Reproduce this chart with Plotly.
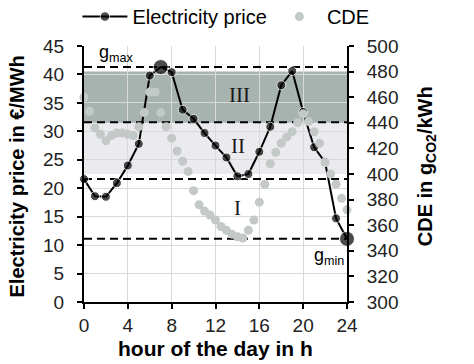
import plotly.graph_objects as go

# ---------------- data ----------------
hours = list(range(0, 25))
price = [21.6, 18.6, 18.5, 20.9, 24.0, 27.8, 39.8, 41.3, 40.4, 33.8, 32.2, 29.7, 27.5,
         25.4, 22.1, 22.5, 26.4, 30.8, 38.1, 40.6, 33.4, 27.2, 24.6, 14.7, 11.1]

cde_hours = [i * 0.5 for i in range(49)]
cde = [460, 449, 436, 431, 426, 430, 432, 432, 431, 430, 437, 448, 464, 464, 448, 437,
       428, 418, 410, 402, 387, 376, 371, 368, 364, 359, 356, 353, 351, 350, 356, 364,
       378, 392, 408, 417, 424, 429, 433, 440, 447, 441, 433, 424, 409, 400, 392, 381, 372]

# dashed reference levels (electricity price axis)
g_levels = [41.3, 31.6, 21.6, 11.1]
# shaded CDE bands (right axis): II and III
band_II = [400, 440]
band_III = [440, 480]

x_ticks = [0, 4, 8, 12, 16, 20, 24]
x_span = [0, 24]
roman_labels = ["III", "II", "I"]
roman_pos = [(14.2, 36.3), (14.05, 27.5), (14.05, 16.5)]

FONT = "Liberation Sans, Arial, sans-serif"

pmax, pmin = max(price), min(price)
sizes = [15 if (v == pmax or v == pmin) else 9 for v in price]

fig = go.Figure()

fig.add_trace(go.Scatter(
    x=cde_hours, y=cde, yaxis="y2", mode="markers", name="CDE",
    marker=dict(color="#c3c9c7", size=9),
    cliponaxis=False, legendrank=2,
))
for lv in g_levels:
    fig.add_trace(go.Scatter(
        x=x_span, y=[lv, lv], mode="lines", showlegend=False, hoverinfo="skip",
        line=dict(color="black", width=2, dash="8px,5px"),
    ))
fig.add_trace(go.Scatter(
    x=hours, y=price, mode="lines+markers", name="Electricity price",
    line=dict(color="black", width=2),
    marker=dict(color="black", size=sizes),
    cliponaxis=False, legendrank=1,
))

shapes = []
shapes.append(dict(type="rect", xref="x", yref="y2", x0=x_span[0], x1=x_span[1],
                   y0=band_II[0], y1=band_II[1],
                   fillcolor="#ebebef", line=dict(width=0), layer="below"))
shapes.append(dict(type="rect", xref="x", yref="y2", x0=x_span[0], x1=x_span[1],
                   y0=band_III[0], y1=band_III[1],
                   fillcolor="#a6b3af", line=dict(width=0), layer="below"))

annotations = []
annotations.append(dict(x=1.2, y=g_levels[0], xref="x", yref="y", text="g<sub>max</sub>",
                        showarrow=False, xanchor="left", yanchor="bottom",
                        font=dict(family=FONT, size=18, color="black")))
annotations.append(dict(x=23.9, y=10.3, xref="x", yref="y", text="g<sub>min</sub>",
                        showarrow=False, xanchor="right", yanchor="top",
                        font=dict(family=FONT, size=18, color="black")))
for lab, (px, py) in zip(roman_labels, roman_pos):
    annotations.append(dict(x=px, y=py, xref="x", yref="y", text=lab, showarrow=False,
                            font=dict(family="Liberation Serif, Times New Roman, serif",
                                      size=21, color="#1a1a1a")))
annotations.append(dict(x=-0.255, y=0.49, xref="paper", yref="paper",
                        xanchor="center", yanchor="middle",
                        text="<b>Electricity price in €/MWh</b>", textangle=-90,
                        showarrow=False, font=dict(family=FONT, size=20, color="black")))
annotations.append(dict(x=1.3, y=0.53, xref="paper", yref="paper",
                        xanchor="center", yanchor="middle",
                        text="<b>CDE in g<sub>CO2</sub>/kWh</b>", textangle=-90,
                        showarrow=False, font=dict(family=FONT, size=20, color="black")))
annotations.append(dict(x=0.5, y=-0.18, xref="paper", yref="paper",
                        xanchor="center", yanchor="middle",
                        text="<b>hour of the day in h</b>", showarrow=False,
                        font=dict(family=FONT, size=21, color="black")))

fig.update_layout(
    width=474, height=364,
    margin=dict(l=84, r=127, t=46, b=62, autoexpand=False),
    paper_bgcolor="white", plot_bgcolor="white",
    font=dict(family=FONT, size=19, color="#222"),
    showlegend=True,
    legend=dict(orientation="h", x=-0.025, y=1.115, xanchor="left", yanchor="middle",
                font=dict(family=FONT, size=20, color="black"), itemwidth=45,
                bgcolor="rgba(0,0,0,0)"),
    xaxis=dict(range=x_span, tickvals=x_ticks, showgrid=True, gridcolor="#d9d9d9",
               showline=True, linecolor="black", linewidth=2, ticks="outside",
               ticklen=5, tickwidth=2, tickcolor="black", zeroline=False,
               tickfont=dict(family=FONT, size=19, color="#222")),
    yaxis=dict(range=[0, 45], dtick=5, showgrid=True, gridcolor="#d9d9d9",
               showline=True, linecolor="black", linewidth=2, ticks="outside",
               ticklen=5, tickwidth=2, tickcolor="black", zeroline=False,
               ticklabelstandoff=9,
               tickfont=dict(family=FONT, size=19, color="#222")),
    yaxis2=dict(range=[300, 500], dtick=20, overlaying="y", side="right", showgrid=False,
                showline=True, linecolor="black", linewidth=2, ticks="outside",
                ticklen=5, tickwidth=2, tickcolor="black", zeroline=False,
                ticklabelstandoff=9,
                tickfont=dict(family=FONT, size=19, color="#222")),
    shapes=shapes, annotations=annotations,
)

fig.write_html("out.html", config={"displayModeBar": False},
               post_script="document.body.style.margin='0';document.body.style.overflow='hidden';")
